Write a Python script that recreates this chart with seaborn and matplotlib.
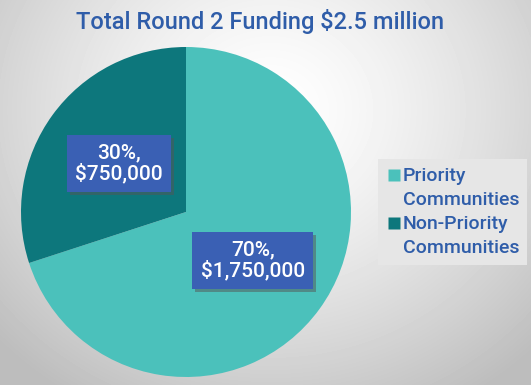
import numpy as np
import matplotlib
matplotlib.use("Agg")
import matplotlib.pyplot as plt
import matplotlib.patheffects as pe
import seaborn as sns

categories = ["Priority\nCommunities", "Non-Priority\nCommunities"]
shares = [70, 30]
amounts = [1750000, 750000]
colors = ["#4BC1BB", "#0D777C"]
title = "Total Round 2 Funding $2.5 million"

sns.set_theme(style="white")
plt.rcParams["font.family"] = ["Roboto", "DejaVu Sans"]

W, H = 531, 385
fig = plt.figure(figsize=(W / 100, H / 100), dpi=100)

# radial gradient background
bg = fig.add_axes([0, 0, 1, 1], zorder=-10)
yy, xx = np.mgrid[0:H, 0:W]
d = np.sqrt(((xx - 270) / 330.0) ** 2 + ((yy - 110) / 300.0) ** 2)
v = np.clip(1.0 - 0.22 * d ** 1.4, 0.74, 1.0)
bg.imshow(v, cmap="gray", vmin=0, vmax=1, aspect="auto", extent=[0, W, H, 0])
bg.set_axis_off()

cx, cy, r = 186, 385 - 212, 165
ax = fig.add_axes([(cx - r) / W, (cy - r) / H, 2 * r / W, 2 * r / H])
ax.set_facecolor("none")

labels_txt = [f"{s}%,\n${a:,.0f}" for s, a in zip(shares, amounts)]
wedges, _ = ax.pie(shares, colors=colors, startangle=90, counterclock=False,
                   wedgeprops=dict(linewidth=0))
for w, t in zip(wedges, labels_txt):
    ang = np.deg2rad((w.theta1 + w.theta2) / 2)
    x, y = 0.5 * np.cos(ang), 0.5 * np.sin(ang)
    txt = ax.text(x, y, t, ha="center", va="center", color="white",
                  fontsize=15, fontweight="medium", linespacing=1.05,
                  bbox=dict(boxstyle="square,pad=0.4", facecolor="#3A60B4",
                            edgecolor="none"))
    txt.get_bbox_patch().set_path_effects(
        [pe.SimplePatchShadow(offset=(2, -2), shadow_rgbFace="#555555", alpha=0.5),
         pe.Normal()])
ax.set_xlim(-1, 1)
ax.set_ylim(-1, 1)
ax.set_aspect("auto")

fig.text(0.49, 1 - 22 / H, title, ha="center", va="center", fontsize=17,
         fontweight="medium", color="#2F5DA9")

handles = [plt.Line2D([], [], marker="s", linestyle="none", markersize=8,
                      markerfacecolor=c, markeredgecolor="none") for c in colors]
leg = fig.legend(handles, categories, loc="center left",
                 bbox_to_anchor=(374 / W, 1 - 212 / H), frameon=True,
                 prop=dict(size=14, weight="medium"), handletextpad=0.05,
                 labelspacing=0.3, borderpad=0.12, handlelength=0.8,
                 labelcolor="#2F5DA9")
leg.get_frame().set_facecolor("#E6E6E6")
leg.get_frame().set_edgecolor("none")
leg.get_frame().set_alpha(1)
leg.get_frame().set_boxstyle("square")
for t in leg.get_texts():
    t.set_linespacing(1.4)
# align the square markers with the first line of each label
for h in leg.legend_handles:
    yd = np.asarray(h.get_ydata(), dtype=float)
    h.set_ydata(yd + 9.5)

fig.savefig("out.png", dpi=100)
